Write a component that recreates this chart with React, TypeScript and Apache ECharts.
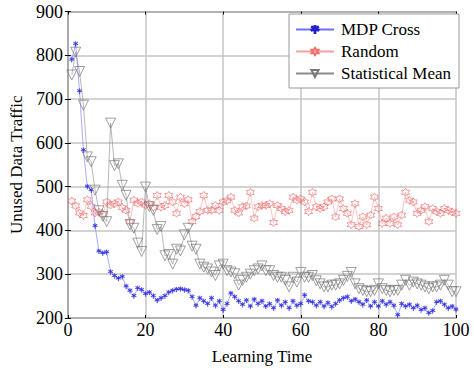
import React, { useEffect, useRef } from "react";
import * as echarts from "echarts";

const xValues: number[] = Array.from({ length: 100 }, (_, i) => i + 1);

const mdpCross: number[] = [
  790, 826, 718, 583, 500, 492, 410, 352, 348, 350,
  305, 296, 290, 294, 272, 262, 250, 268, 264, 255,
  258, 250, 240, 245, 250, 258, 262, 265, 266, 264,
  262, 248, 228, 245, 238, 232, 245, 228, 238, 218,
  232, 256, 248, 238, 230, 240, 226, 242, 232, 238,
  226, 232, 222, 240, 228, 236, 222, 238, 228, 232,
  252, 238, 236, 228, 236, 226, 234, 225, 232, 240,
  245, 248, 238, 242, 236, 230, 240, 226, 236, 226,
  238, 230, 236, 228, 206, 232, 226, 230, 222, 228,
  218, 222, 211, 216, 236, 238, 230, 222, 226, 219,
];

const randomSel: number[] = [
  467, 456, 440, 434, 470, 455, 440, 442, 437, 465,
  458, 461, 465, 452, 446, 420, 469, 462, 465, 458,
  461, 453, 480, 453, 457, 480, 465, 439, 476, 461,
  470, 420, 432, 443, 480, 446, 446, 457, 446, 465,
  468, 476, 446, 440, 454, 456, 487, 428, 454, 457,
  457, 461, 418, 457, 450, 443, 446, 476, 469, 472,
  465, 443, 487, 454, 450, 454, 465, 472, 431, 472,
  450, 439, 413, 461, 409, 431, 413, 435, 476, 450,
  416, 428, 416, 431, 413, 435, 487, 469, 465, 439,
  446, 454, 420, 450, 443, 439, 450, 446, 442, 439,
];

const statMean: number[] = [
  755, 807, 763, 686, 568, 557, 492, 445, 432, 420,
  645, 548, 552, 503, 480, 413, 405, 371, 352, 499,
  454, 446, 402, 409, 342, 345, 323, 357, 353, 390,
  405, 364, 357, 323, 316, 312, 305, 297, 319, 323,
  308, 305, 301, 275, 286, 293, 300, 308, 312, 319,
  308, 308, 297, 293, 293, 286, 271, 293, 282, 304,
  293, 293, 297, 285, 278, 271, 271, 275, 275, 278,
  286, 295, 304, 278, 267, 263, 260, 260, 263, 278,
  267, 263, 260, 263, 263, 275, 286, 275, 282, 278,
  275, 271, 267, 271, 271, 275, 286, 275, 260, 260,
];

const seriesNames: string[] = ["MDP Cross", "Random", "Statistical Mean"];

const hexagram =
  "path://M0,-10 L2.9,-5 L8.66,-5 L5.8,0 L8.66,5 L2.9,5 L0,10 L-2.9,5 L-8.66,5 L-5.8,0 L-8.66,-5 L-2.9,-5 Z";
const asterisk =
  "path://M-1,-10 L1,-10 L1,-3 L7,-8 L8,-6 L2,-1 L9,1 L8,3 L1,1 L1,10 L-1,10 L-1,1 L-8,3 L-9,1 L-2,-1 L-8,-6 L-7,-8 L-1,-3 Z";

const FONT = "Times New Roman, Liberation Serif, serif";

export default function App() {
  const ref = useRef<HTMLDivElement>(null);
  useEffect(() => {
    if (!ref.current) return;
    const chart = echarts.init(ref.current, null, { renderer: "svg" });
    const pair = (arr: number[]) => arr.map((v, i) => [xValues[i], v]);
    const label = { fontFamily: FONT, fontSize: 17, color: "#000" };
    const tick = { fontFamily: FONT, fontSize: 18, color: "#000" };
    chart.setOption({
      animation: false,
      backgroundColor: "#ffffff",
      textStyle: { fontFamily: FONT },
      grid: { left: 57, right: 18, top: 11.5, bottom: 47, containLabel: false },
      legend: {
        orient: "vertical",
        left: 289,
        top: 14,
        padding: [7, 8, 6, 6],
        itemGap: 5,
        itemWidth: 38,
        itemHeight: 9,
        backgroundColor: "#ffffff",
        borderColor: "#9a9a9a",
        borderWidth: 1,
        borderRadius: 0,
        data: seriesNames,
        textStyle: { ...label, lineHeight: 17, padding: [0, 0, 0, 2] },
      },
      xAxis: [
        {
          type: "value",
          min: 0,
          max: 100,
          interval: 20,
          name: "Learning Time",
          nameLocation: "middle",
          nameGap: 30,
          nameTextStyle: label,
          axisLine: { show: true, lineStyle: { color: "#a8a8a8", width: 1.5 } },
          axisTick: { show: true, inside: true, length: 3, lineStyle: { color: "#000" } },
          axisLabel: { ...tick, margin: 3 },
          splitLine: { show: true, lineStyle: { color: "#c4c4c4", width: 1.5 } },
        },
        {
          type: "value",
          position: "top",
          min: 0,
          max: 100,
          interval: 20,
          axisLine: { show: true, lineStyle: { color: "#a8a8a8", width: 1.5 } },
          axisTick: { show: true, inside: true, length: 3, lineStyle: { color: "#000" } },
          axisLabel: { show: false },
          splitLine: { show: false },
        },
      ],
      yAxis: [
        {
          type: "value",
          min: 200,
          max: 900,
          interval: 100,
          name: "Unused Data Traffic",
          nameLocation: "middle",
          nameGap: 42,
          nameTextStyle: label,
          axisLine: { show: true, lineStyle: { color: "#a8a8a8", width: 1.5 } },
          axisTick: { show: true, inside: true, length: 3, lineStyle: { color: "#000" } },
          axisLabel: { ...tick, margin: 5 },
          splitLine: { show: true, lineStyle: { color: "#c4c4c4", width: 1.5 } },
        },
        {
          type: "value",
          position: "right",
          min: 200,
          max: 900,
          interval: 100,
          axisLine: { show: true, lineStyle: { color: "#a8a8a8", width: 1.5 } },
          axisTick: { show: true, inside: true, length: 3, lineStyle: { color: "#000" } },
          axisLabel: { show: false },
          splitLine: { show: false },
        },
      ],
      series: [
        {
          name: seriesNames[0],
          type: "line",
          data: pair(mdpCross),
          symbol: asterisk,
          symbolSize: 5,
          lineStyle: { color: "#7070ff", width: 0.6 },
          itemStyle: { color: "#3030f0", borderColor: "#2020d0", borderWidth: 0.3 },
          z: 3,
        },
        {
          name: seriesNames[1],
          type: "line",
          data: pair(randomSel),
          symbol: hexagram,
          symbolSize: 8,
          lineStyle: { color: "#f4a0a0", width: 0.6 },
          itemStyle: { color: "rgba(255,255,255,0)", borderColor: "#f07070", borderWidth: 0.7 },
          z: 4,
        },
        {
          name: seriesNames[2],
          type: "line",
          data: pair(statMean),
          symbol: "triangle",
          symbolRotate: 180,
          symbolSize: 10,
          lineStyle: { color: "#8a8a8a", width: 0.6 },
          itemStyle: { color: "rgba(255,255,255,0)", borderColor: "#777777", borderWidth: 0.7 },
          z: 5,
        },
      ],
    });
    return () => chart.dispose();
  }, []);
  return (
    <div
      ref={ref}
      style={{ position: "fixed", left: 0, top: 0, width: 474, height: 370, background: "#fff" }}
    />
  );
}
